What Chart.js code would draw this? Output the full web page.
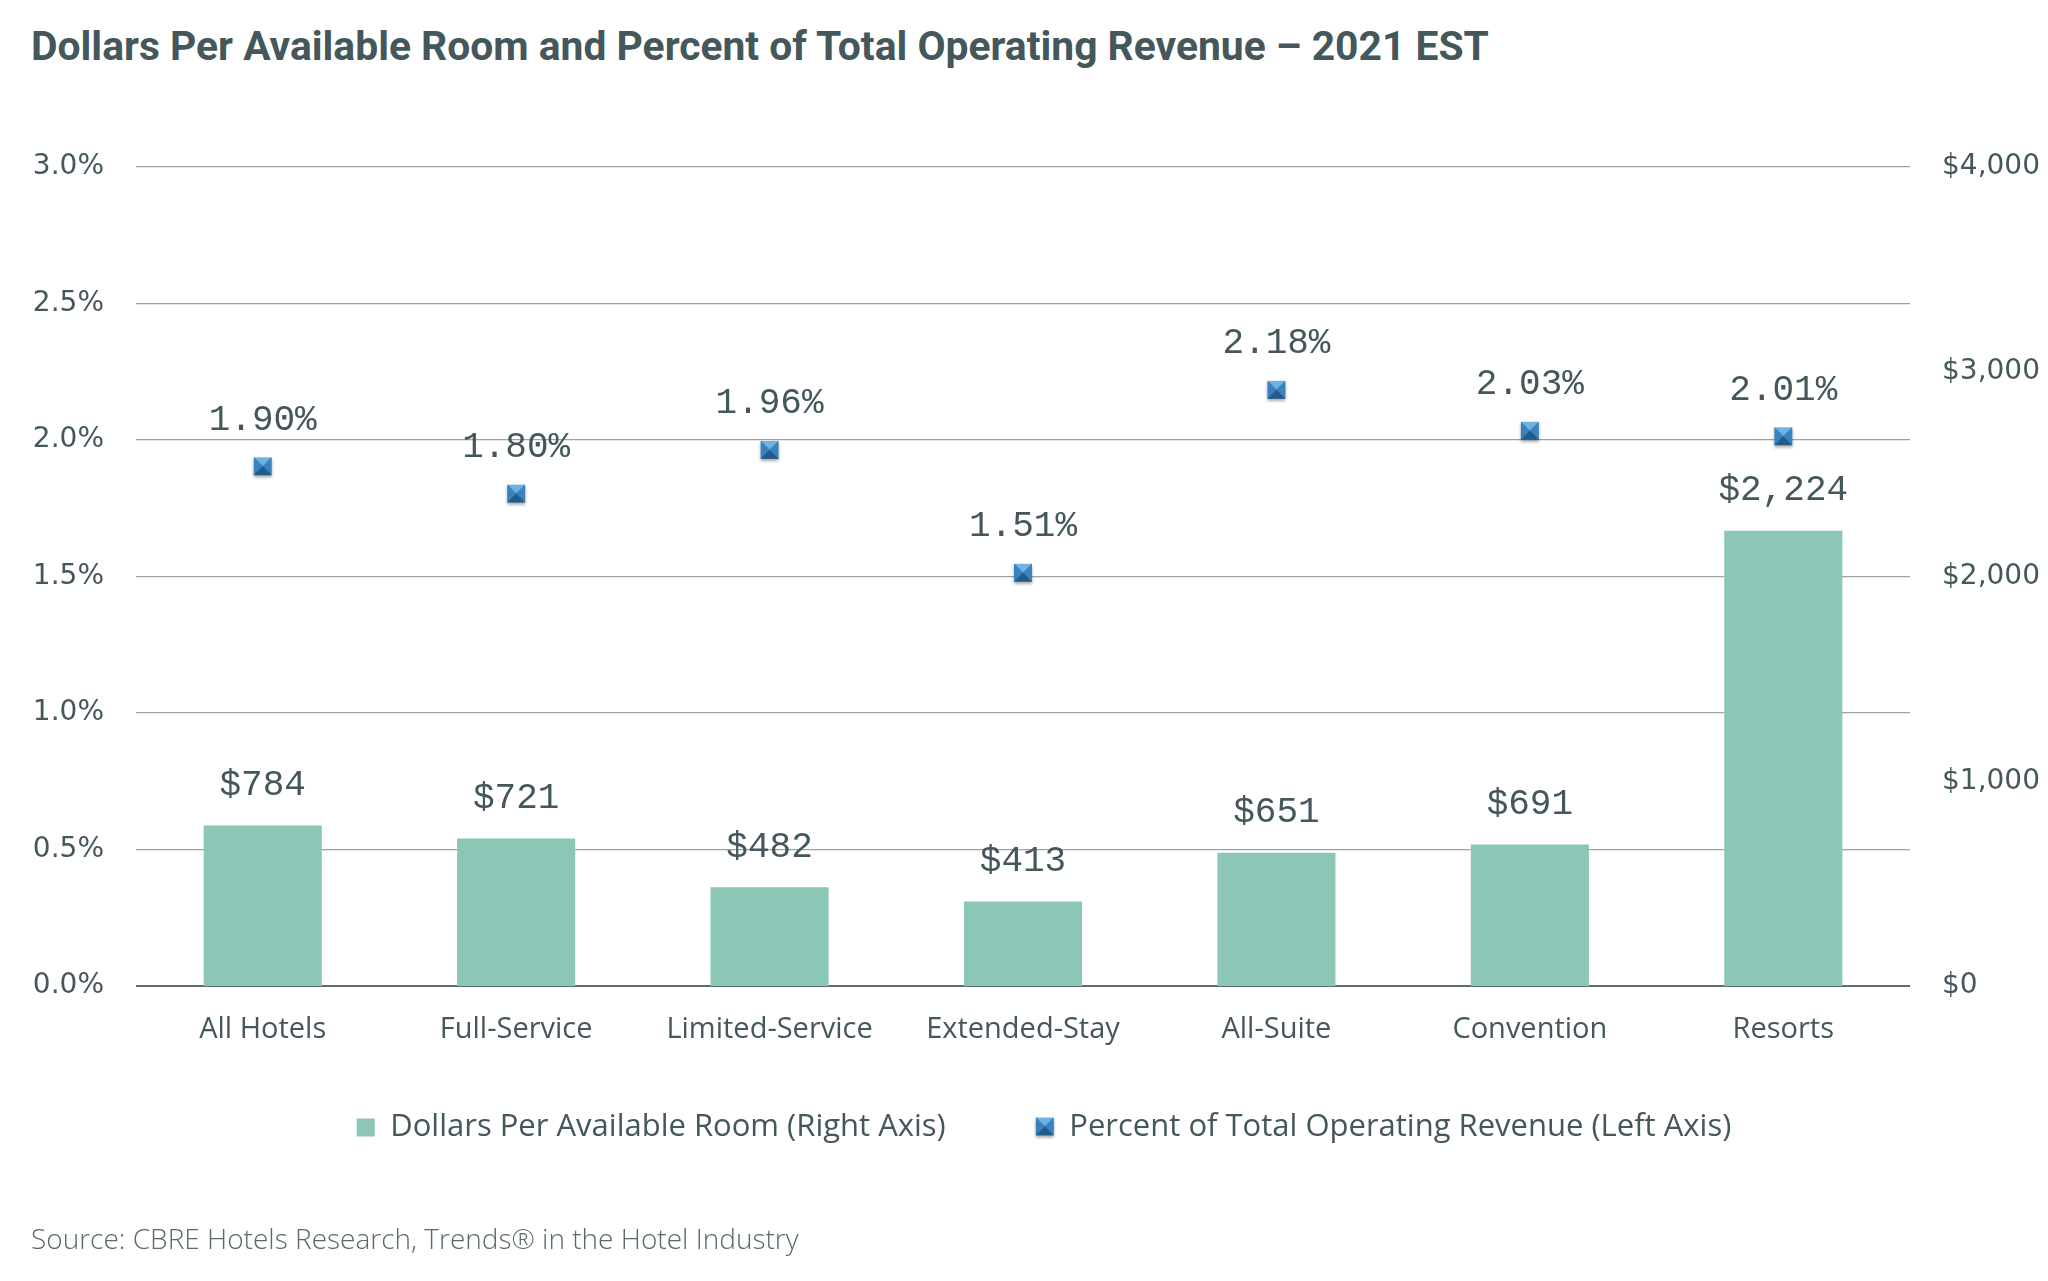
<!DOCTYPE html>
<html>
<head>
<meta charset="utf-8">
<script src="https://cdn.jsdelivr.net/npm/chart.js@4.4.1/dist/chart.umd.min.js"></script>
<style>
  body { margin: 0; background: #fff; }
  #page { position: relative; width: 2048px; height: 1281px; overflow: hidden; }
  #title {
    position: absolute; left: 31px; top: 22px; white-space: nowrap;
    font-family: Roboto, sans-serif; font-weight: 700; font-size: 40.8px; line-height: 48px;
    color: #44575a;
  }
  #source {
    position: absolute; left: 31px; top: 1220px; white-space: nowrap;
    font-family: "Open Sans", sans-serif; font-weight: 300; font-size: 28px; line-height: 36px; color: #5a6a6c;
  }
  #wrap { position: absolute; left: 0; top: 0; width: 2048px; height: 1281px; }
</style>
</head>
<body>
<div id="page">
  <div id="title">Dollars Per Available Room and Percent of Total Operating Revenue – 2021 EST</div>
  <div id="wrap"><canvas id="chart"></canvas></div>
  <div id="source">Source: CBRE Hotels Research, Trends® in the Hotel Industry</div>
</div>
<script>
// --- DATA ---
const categories = ['All Hotels', 'Full-Service', 'Limited-Service', 'Extended-Stay', 'All-Suite', 'Convention', 'Resorts'];
const dollarsPerRoom = [784, 721, 482, 413, 651, 691, 2224];
const percentOfRevenue = [1.90, 1.80, 1.96, 1.51, 2.18, 2.03, 2.01];
const leftTicks = [0, 0.5, 1.0, 1.5, 2.0, 2.5, 3.0];
const rightTicks = [0, 1000, 2000, 3000, 4000];

const textColor = '#44575a';
const barColor = '#8bc6b6';
const tickFont = { family: '"DejaVu Sans", sans-serif', size: 28 };

// marker: small bevelled blue square with a soft shadow
function makeMarker(size) {
    const pad = 5;
    const c = document.createElement('canvas');
    c.width = size + pad * 2;
    c.height = size + pad * 2;
    const g = c.getContext('2d');
    const x0 = pad, y0 = pad - 1, x1 = pad + size, y1 = pad - 1 + size;
    const cx = (x0 + x1) / 2, cy = (y0 + y1) / 2;
    g.save();
    g.shadowColor = 'rgba(0,0,0,0.35)';
    g.shadowBlur = 3;
    g.shadowOffsetY = 2;
    g.fillStyle = '#2c6a9c';
    g.fillRect(x0, y0, size, size);
    g.restore();
    const tri = (pts, col) => {
        g.beginPath();
        g.moveTo(pts[0], pts[1]);
        g.lineTo(pts[2], pts[3]);
        g.lineTo(pts[4], pts[5]);
        g.closePath();
        g.fillStyle = col;
        g.fill();
    };
    tri([x0, y0, x1, y0, cx, cy], '#6fb3e3');
    tri([x0, y0, x0, y1, cx, cy], '#3a82bd');
    tri([x1, y0, x1, y1, cx, cy], '#3a82bd');
    tri([x0, y1, x1, y1, cx, cy], '#245a88');
    return c;
}
const marker = makeMarker(18);

// value labels above bars and markers
const valueLabels = {
    id: 'valueLabels',
    afterLayout(chart) {
        // nudge the legend row a little to the right
        if (chart.legend) {
            chart.legend.left += 20;
            chart.legend.right += 20;
        }
    },
    afterDatasetsDraw(chart) {
        const ctx = chart.ctx;
        ctx.save();
        ctx.font = '36px "Liberation Mono", "DejaVu Sans Mono", monospace';
        ctx.fillStyle = textColor;
        ctx.textAlign = 'center';
        ctx.textBaseline = 'middle';
        chart.getDatasetMeta(0).data.forEach((el, i) => {
            ctx.fillText('$' + dollarsPerRoom[i].toLocaleString('en-US'), el.x, el.y - 40);
        });
        chart.getDatasetMeta(1).data.forEach((el, i) => {
            ctx.fillText(percentOfRevenue[i].toFixed(2) + '%', el.x, el.y - 47);
        });
        ctx.restore();
    }
};

Chart.defaults.font.family = '"Open Sans", sans-serif';
Chart.defaults.color = textColor;

const ctx = document.getElementById('chart').getContext('2d');
new Chart(ctx, {
    data: {
        labels: categories,
        datasets: [
            {
                type: 'bar',
                label: 'Dollars Per Available Room (Right Axis)',
                data: dollarsPerRoom,
                yAxisID: 'y1',
                backgroundColor: barColor,
                barPercentage: 1,
                categoryPercentage: 0.466,
                pointStyle: 'rect'
            },
            {
                type: 'line',
                label: 'Percent of Total Operating Revenue (Left Axis)',
                data: percentOfRevenue,
                yAxisID: 'y',
                showLine: false,
                pointStyle: marker,
                pointRadius: 9,
                pointHoverRadius: 9
            }
        ]
    },
    options: {
        responsive: true,
        maintainAspectRatio: false,
        animation: false,
        layout: { padding: { top: 167, bottom: 128, left: 0, right: 0 } },
        plugins: {
            tooltip: { enabled: false },
            legend: {
                position: 'bottom',
                labels: {
                    usePointStyle: true,
                    boxWidth: 18,
                    boxHeight: 18,
                    padding: 20,
                    color: textColor,
                    font: { size: 31 },
                    // wider gap between the two legend entries
                    generateLabels: chart => {
                        const items = Chart.defaults.plugins.legend.labels.generateLabels(chart);
                        items[0].text += ' \u2003\u2003';
                        return items;
                    }
                }
            }
        },
        scales: {
            x: {
                offset: true,
                grid: { display: false },
                border: { display: false },
                ticks: { color: textColor, font: { size: 29 }, padding: 18, maxRotation: 0 },
                afterFit: s => { s.height = 106; }
            },
            y: {
                position: 'left',
                min: 0,
                max: 3,
                afterBuildTicks: s => { s.ticks = leftTicks.map(v => ({ value: v })); },
                ticks: {
                    color: textColor,
                    font: tickFont,
                    padding: 32,
                    callback: v => v.toFixed(1) + '%'
                },
                grid: {
                    drawTicks: false,
                    color: c => c.tick && c.tick.value === 0 ? '#5e6d6e' : '#9aa4a5',
                    lineWidth: c => c.tick && c.tick.value === 0 ? 2 : 1.3
                },
                border: { display: false },
                afterFit: s => { s.width = 136; }
            },
            y1: {
                position: 'right',
                min: 0,
                max: 4000,
                afterBuildTicks: s => { s.ticks = rightTicks.map(v => ({ value: v })); },
                ticks: {
                    color: textColor,
                    font: tickFont,
                    padding: 32,
                    callback: v => '$' + v.toLocaleString('en-US')
                },
                grid: { display: false, drawTicks: false },
                border: { display: false },
                afterFit: s => { s.width = 138; }
            }
        }
    },
    plugins: [valueLabels]
});
</script>
</body>
</html>
